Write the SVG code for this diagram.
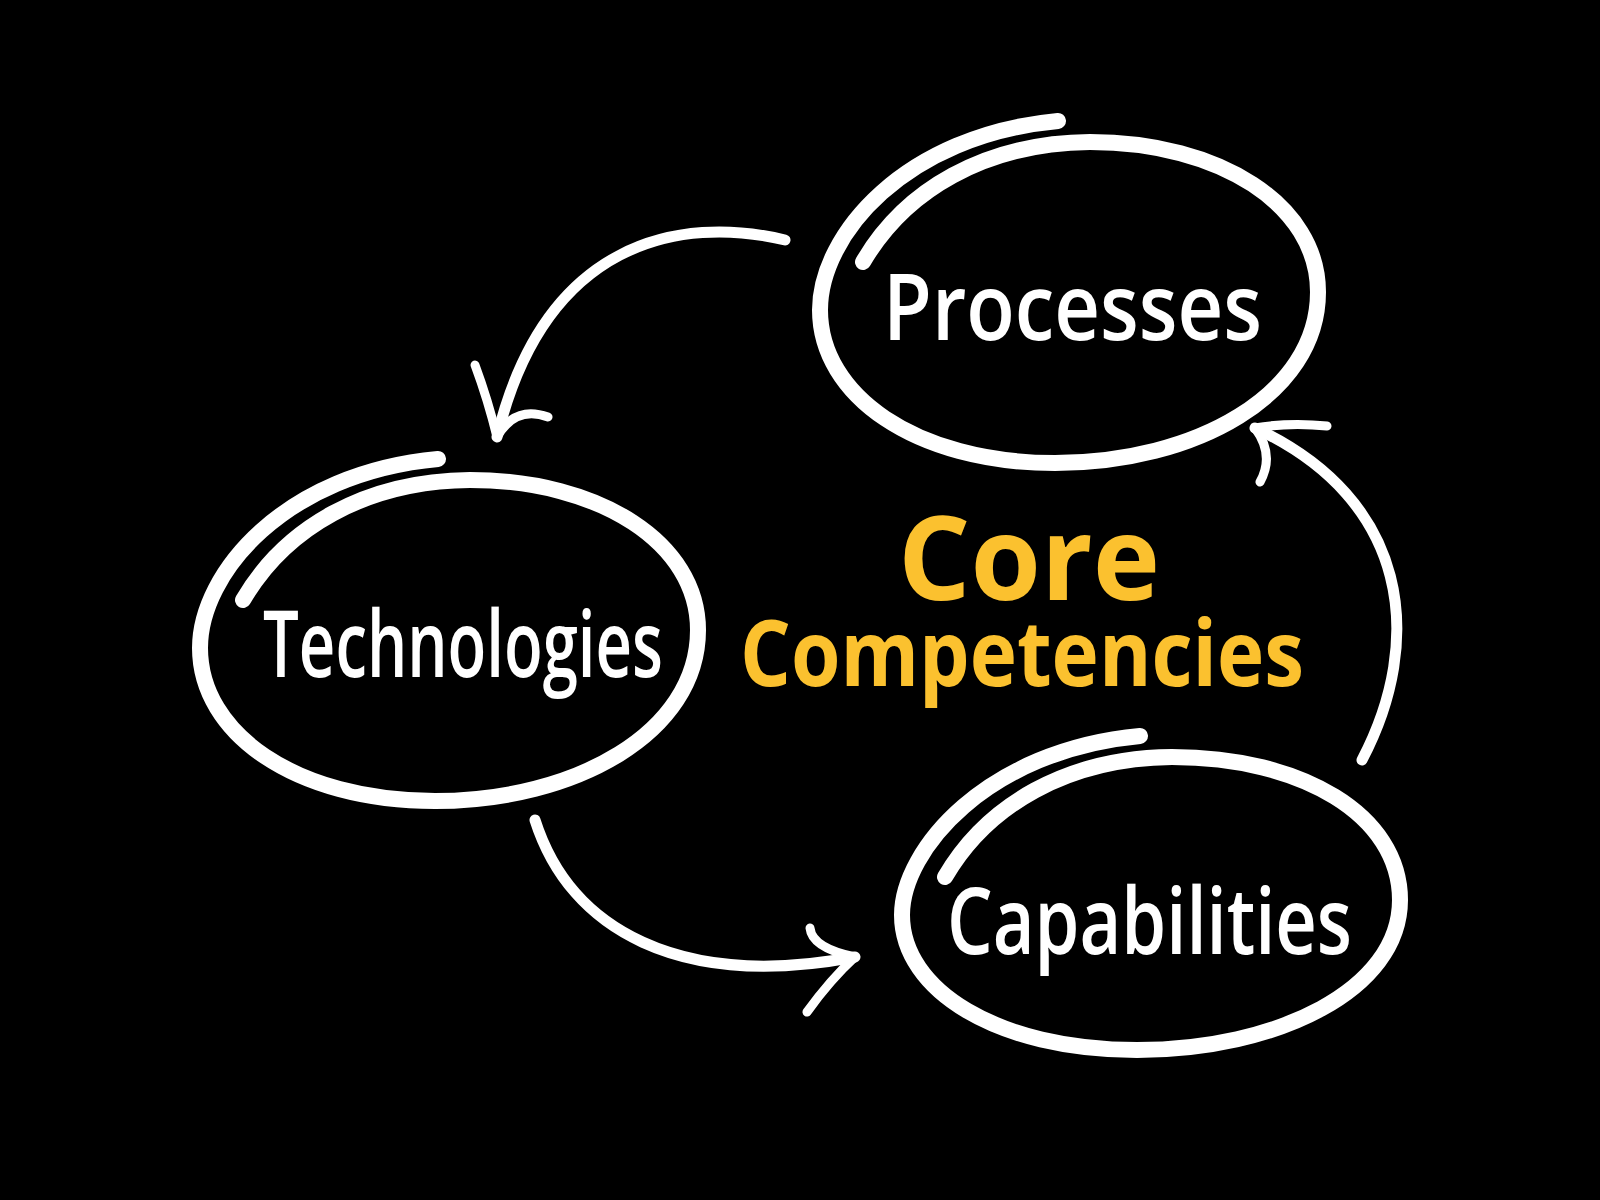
<svg xmlns="http://www.w3.org/2000/svg" width="1600" height="1200" viewBox="0 0 1600 1200">
<style>
.ring{fill:none;stroke:#fff;stroke-width:16;stroke-linecap:round;stroke-linejoin:round}
.conn{fill:none;stroke:#fff;stroke-width:11;stroke-linecap:round;stroke-linejoin:round}
.barb{fill:none;stroke:#fff;stroke-width:9;stroke-linecap:round}
.lbl{font-family:"Open Sans","Noto Sans",sans-serif;font-weight:600;fill:#fff}
.title{font-family:"Open Sans","Noto Sans",sans-serif;font-weight:700;fill:#FBC12F}
</style>
<defs>
  <path id="loop" d="M863,262 C905,190 985,143 1090,142 C1220,142 1318,205 1318,292 C1318,395 1195,463 1055,463 C915,463 820,395 820,310 C820,235 905,135 1058,121"/>
</defs>
<rect x="0" y="0" width="1600" height="1200" fill="#000"/>
<g id="connectors">
  <path class="conn" d="M785,240 C680,215 545,240 497,437"/>
  <path class="barb" d="M475,365 Q488,400 497,437"/>
  <path class="barb" d="M497,437 Q515,405 548,417"/>
  <path class="conn" d="M535,820 C570,930 680,990 855,957"/>
  <path class="barb" d="M810,928 Q812,948 855,957"/>
  <path class="barb" d="M855,957 Q830,980 807,1012"/>
  <path class="conn" d="M1362,760 C1425,640 1410,500 1255,428"/>
  <path class="barb" d="M1255,428 Q1290,422 1327,426"/>
  <path class="barb" d="M1255,428 Q1275,455 1260,482"/>
</g>
<g id="node-processes">
  <use href="#loop" class="ring"/>
  <text class="lbl" font-size="79" x="0" y="0" transform="translate(883,340) scale(1,1.165)" textLength="379" lengthAdjust="spacingAndGlyphs">Processes</text>
</g>
<g id="node-technologies">
  <use href="#loop" class="ring" transform="translate(-620,338)"/>
  <text class="lbl" font-size="62" x="0" y="0" transform="translate(263,677) scale(1,1.48)" textLength="400" lengthAdjust="spacingAndGlyphs">Technologies</text>
</g>
<g id="node-capabilities">
  <path class="ring" d="M945,877 C987,805 1067,758 1172,757 C1302,757 1400,815 1400,900 C1400,990 1277,1050 1137,1050 C997,1050 902,990 902,915 C902,850 987,750 1140,736"/>
  <text class="lbl" font-size="73" x="0" y="0" transform="translate(947,954) scale(1,1.26)" textLength="405" lengthAdjust="spacingAndGlyphs">Capabilities</text>
</g>
<g id="node-core">
  <text class="title" font-size="114" x="0" y="0" transform="translate(898,600) scale(1,1.02)" textLength="262" lengthAdjust="spacingAndGlyphs">Core</text>
  <text class="title" font-size="80" x="0" y="0" transform="translate(740,686) scale(1,1.15)" textLength="564" lengthAdjust="spacingAndGlyphs">Competencies</text>
</g>
</svg>
